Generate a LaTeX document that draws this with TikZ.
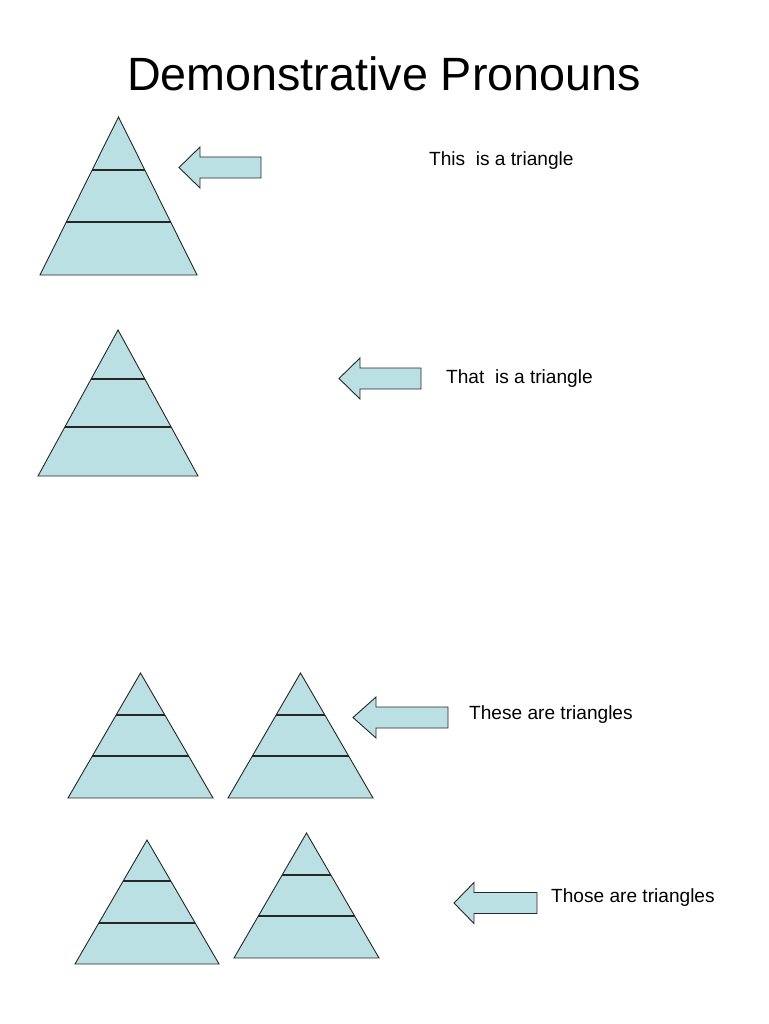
\documentclass[tikz,border=0pt]{standalone}
\usepackage{xcolor}
\usepackage{fontspec}
\setmainfont{Liberation Sans}
\usepackage{tikz}
\usetikzlibrary{calc,positioning}
\definecolor{pale}{RGB}{187,224,227}
\newcommand{\pyramid}[5]{%
    \coordinate (#1t) at (#2,#3);
    \coordinate (#1l) at ($(#1t)+(-#4,#5)$);
    \coordinate (#1r) at ($(#1t)+(#4,#5)$);
    \draw[tri] (#1t) -- (#1l) -- (#1r) -- cycle;
    \draw[band] ($(#1t)!1/3!(#1l)$) -- ($(#1t)!1/3!(#1r)$);
    \draw[band] ($(#1t)!2/3!(#1l)$) -- ($(#1t)!2/3!(#1r)$);}
\newcommand{\blockarrow}[5]{%
    \coordinate (#1) at (#2,#3);
    \draw[tri] (#1) -- ++(#5,-20.5) -- ++(0,10) -- (#4,#3-10.5) -- (#4,#3+10.5)
        -- ($(#1)+(#5,10.5)$) -- ++(0,10) -- cycle;}

\begin{document}
\begin{tikzpicture}[x=1pt, y=-1pt,
    tri/.style = {fill=pale, draw=black!85, line width=0.9pt, line join=miter},
    band/.style = {draw=black!85, line width=1.8pt},
    says/.style = {anchor=base west, inner sep=0pt, font=\fontsize{19.1}{23}\selectfont}]

    \useasboundingbox (0,0) rectangle (768,1024);

    \node[anchor=base, inner sep=0pt, font=\fontsize{46.7}{56}\selectfont] (title) at (384,90.5)
        {Demonstrative Pronouns};

    \pyramid{a}{118.5}{117}{78.5}{158}
    \pyramid{b}{118}{330}{80}{146}
    \pyramid{c}{140.5}{673}{72.5}{125}
    \pyramid{d}{300.5}{673}{72.5}{125}
    \pyramid{e}{147}{840}{72}{124}
    \pyramid{f}{306.5}{833}{72.5}{125}

    \blockarrow{thisarrow}{179}{167.5}{261}{21}
    \blockarrow{thatarrow}{339}{378.5}{421}{21}
    \blockarrow{thesearrow}{353}{717.5}{448}{23}
    \blockarrow{thosearrow}{454}{903}{537}{20}

    \node[says] (this) at (429,165.5) {This\ \ is a triangle};
    \node[says] (that) at (446,383.5) {That\ \ is a triangle};
    \node[says] (these) at (469,719.5) {These are triangles};
    \node[says] (those) at (551,902.5) {Those are triangles};
\end{tikzpicture}
\end{document}
